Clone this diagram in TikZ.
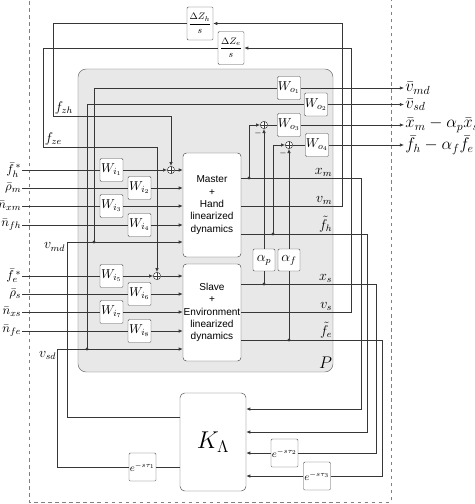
\documentclass[tikz,border=0pt]{standalone}
\usepackage{fontspec}
\newfontfamily\blkfont{Liberation Sans}
\definecolor{wiregray}{RGB}{55,55,55}
\definecolor{pgray}{RGB}{232,232,232}
\usepackage{tikz}
\usetikzlibrary{
  arrows.meta,
  positioning
}

\begin{document}
\begin{tikzpicture}[x=0.03cm, y=-0.03cm,
  wire/.style={draw=wiregray, line width=0.6pt},
  arr/.style={wire, -{Latex[length=3.5pt,width=3pt]}},
  wbox/.style={rectangle, draw=black!70, fill=white, rounded corners=1pt, minimum width=0.69cm, minimum height=0.69cm, inner sep=0pt, font=\fontsize{11}{13}\selectfont},
  dzbox/.style={rectangle, draw=black!70, fill=white, rounded corners=1pt, minimum width=0.78cm, minimum height=0.99cm, inner sep=0pt, font=\fontsize{8}{9}\selectfont},
  dlbox/.style={rectangle, draw=black!70, fill=white, rounded corners=1pt, minimum width=0.81cm, minimum height=0.84cm, inner sep=0pt, font=\fontsize{9}{10}\selectfont},
  dynblock/.style={rectangle, draw=black!70, fill=white, rounded corners=3pt, minimum width=1.74cm, inner sep=0pt, align=center, font=\blkfont\fontsize{8.6}{10.5}\selectfont},
  sumnode/.style={circle, draw=wiregray, fill=white, minimum size=0.22cm, inner sep=0pt,
    path picture={\draw[wiregray] (path picture bounding box.north) -- (path picture bounding box.south)
      (path picture bounding box.west) -- (path picture bounding box.east);}},
  dot/.style={circle, fill=wiregray, inner sep=0pt, minimum size=2.6pt},
  inlbl/.style={inner sep=0.5pt, font=\fontsize{11}{13}\selectfont},
  sig/.style={inner sep=0.5pt, font=\fontsize{11.5}{13}\selectfont},
  outlbl/.style={inner sep=1pt, anchor=west, font=\fontsize{14}{16}\selectfont}
]
  \useasboundingbox (0,0) rectangle (474,504);
  \draw[dashed, gray, line width=0.6pt] (29,-20) rectangle (391,502);

  % plant P
  \node[rectangle, fill=pgray, draw=black!60, rounded corners=7pt, minimum width=7.65cm, minimum height=9.09cm] (pbox) at (205.5,220.5) {};
  \node[sig, anchor=south east] (plbl) at (333,369) {\fontsize{15}{17}\selectfont$P$};

  \node[dynblock, minimum height=3.12cm] (master) at (212,205) {Master\\+\\Hand\\linearized\\dynamics};
  \node[dynblock, minimum height=2.91cm] (slave) at (212,312.5) {Slave\\+\\Environment\\linearized\\dynamics};

  \node[dzbox] (dzh) at (200,23.5) {$\displaystyle\frac{\Delta Z_h}{s}$};
  \node[dzbox] (dze) at (231,48) {$\displaystyle\frac{\Delta Z_e}{s}$};

  \foreach \n/\x/\y in {1/111.5/170, 2/139.5/188, 3/111.5/206, 4/139.5/225,
                        5/111.5/276, 6/139.5/294, 7/111.5/312, 8/139.5/331}
    \node[wbox] (wi\n) at (\x,\y) {$W_{i_{\n}}$};
  \foreach \n/\x/\y in {1/289/88, 2/316/104.5, 3/289/125, 4/317/145}
    \node[wbox] (wo\n) at (\x,\y) {$W_{o_{\n}}$};

  \node[sumnode] (sm) at (171,170) {};
  \node[sumnode] (ss) at (157,276) {};
  \node[sumnode] (s3) at (264,125) {};
  \node[sumnode] (s4) at (289,145) {};

  \node[wbox, minimum width=0.66cm, minimum height=0.66cm, font=\fontsize{12}{14}\selectfont] (ap) at (264,260) {$\alpha_p$};
  \node[wbox, minimum width=0.66cm, minimum height=0.66cm, font=\fontsize{12}{14}\selectfont] (af) at (289,260) {$\alpha_f$};

  % controller
  \node[rectangle, draw=black!70, fill=white, rounded corners=4pt, minimum width=1.98cm, minimum height=2.94cm, font=\fontsize{21}{24}\selectfont] (K) at (213,442) {$K_\Lambda$};
  \node[dlbox] (d1) at (142.5,467) {$e^{-s\tau_1}$};
  \node[dlbox] (d2) at (284.5,453) {$e^{-s\tau_2}$};
  \node[dlbox] (d3) at (317,476) {$e^{-s\tau_3}$};

  % inputs
  \foreach \n/\y/\t in {1/170/{\bar f_h^{\,*}}, 2/188/{\bar\rho_m}, 3/206/{\bar n_{xm}}, 4/225/{\bar n_{fh}},
                        5/276/{\bar f_e^{\,*}}, 6/294/{\bar\rho_s}, 7/312/{\bar n_{xs}}, 8/331/{\bar n_{fe}}}
    \node[inlbl, anchor=east] (in\n) at (22,\y) {$\t$};
  \foreach \n in {1,...,8}
    \draw[wire] (in\n.east) -- (wi\n.west);
  \foreach \n in {2,3,4}
    \draw[arr] (wi\n.east) -- (master.west |- wi\n.east);
  \foreach \n in {6,7,8}
    \draw[arr] (wi\n.east) -- (slave.west |- wi\n.east);
  \draw[arr] (wi1.east) -- (sm.west);
  \draw[arr] (sm.east) -- (master.west |- sm.east);
  \draw[arr] (wi5.east) -- (ss.west);
  \draw[arr] (ss.east) -- (slave.west |- ss.east);

  % interaction forces
  \coordinate (czh) at (53,116);
  \coordinate (cze) at (43,147);
  \draw[arr] (dzh.west) -| (czh) -| (sm.north);
  \draw[arr] (dze.west) -| (cze) -| (ss.north);
  \node[sig, anchor=south west] (fzh) at (54,115) {$f_{zh}$};
  \node[sig, anchor=south west] (fze) at (44,146) {$f_{ze}$};

  % plant outputs
  \coordinate (oxm) at (241,178);
  \coordinate (ovm) at (241,206);
  \coordinate (ofh) at (241,234);
  \coordinate (oxs) at (241,284);
  \coordinate (ovs) at (241,312);
  \coordinate (ofe) at (241,340);
  \coordinate (bvm) at (342,23.5);
  \coordinate (bvs) at (351,48);
  \coordinate (bxm) at (361,409);
  \coordinate (bfh) at (367,432);
  \coordinate (bxs) at (376,453);
  \coordinate (bfe) at (382,476);

  \draw[arr] (ovm) -| (bvm) -- (dzh.east);
  \draw[arr] (ovs) -| (bvs) -- (dze.east);
  \draw[arr] (oxm) -| (bxm) -- (K.east |- bxm);
  \draw[arr] (ofh) -| (bfh) -- (K.east |- bfh);
  \draw[wire] (oxs) -| (bxs) -- (d2.east);
  \draw[wire] (ofe) -| (bfe) -- (d3.east);
  \draw[arr] (d2.west) -- (K.east |- d2.west);
  \draw[arr] (d3.west) -- (K.east |- d3.west);

  \node[sig, anchor=south east] (lxm) at (333,177) {$x_m$};
  \node[sig, anchor=south east] (lvm) at (333,205) {$v_m$};
  \node[sig, anchor=south east] (lfh) at (333,233) {$\tilde f_h$};
  \node[sig, anchor=south east] (lxs) at (333,283) {$x_s$};
  \node[sig, anchor=south east] (lvs) at (333,311) {$v_s$};
  \node[sig, anchor=south east] (lfe) at (333,339) {$\tilde f_e$};

  % performance outputs
  \coordinate (jxm) at (249,178);
  \coordinate (jfh) at (273,234);
  \coordinate (jxs) at (264,284);
  \coordinate (jfe) at (289,340);
  \draw[arr] (jxm) |- (s3.west);
  \draw[arr] (jfh) |- (s4.west);
  \draw[wire] (jxs) -- (ap.south);
  \draw[wire] (jfe) -- (af.south);
  \draw[arr] (ap.north) -- (s3.south);
  \draw[arr] (af.north) -- (s4.south);
  \draw[wire] (s3.east) -- (wo3.west);
  \draw[wire] (s4.east) -- (wo4.west);
  \node[font=\scriptsize, inner sep=0pt] (m3) at (258,133) {$-$};
  \node[font=\scriptsize, inner sep=0pt] (m4) at (283,153) {$-$};
  \foreach \j in {jxm,jfh,jxs,jfe}
    \node[dot] at (\j) {};

  \node[outlbl] (yvmd) at (404,88) {$\bar v_{md}$};
  \node[outlbl] (yvsd) at (404,104.5) {$\bar v_{sd}$};
  \node[outlbl] (yxx) at (404,125) {$\bar x_m-\alpha_p\bar x_s$};
  \node[outlbl] (yff) at (404,145) {$\bar f_h-\alpha_f\bar f_e$};
  \draw[arr] (wo1.east) -- (yvmd.west);
  \draw[arr] (wo2.east) -- (yvsd.west);
  \draw[arr] (wo3.east) -- (yxx.west);
  \draw[arr] (wo4.east) -- (yff.west);

  % controller outputs
  \coordinate (kvmd) at (180,417);
  \coordinate (lvmd) at (67,242);
  \coordinate (lvsd) at (57,349);
  \coordinate (jvmd) at (94,242);
  \coordinate (jvsd) at (87,349);
  \draw[arr] (kvmd) -| (lvmd) -- (master.west |- lvmd);
  \draw[wire] (K.west |- d1.east) -- (d1.east);
  \draw[arr] (d1.west) -| (lvsd) -- (slave.west |- lvsd);
  \draw[wire] (jvmd) |- (wo1.west);
  \draw[wire] (jvsd) |- (wo2.west);
  \node[dot] at (jvmd) {};
  \node[dot] at (jvsd) {};
  \node[sig, anchor=east] (vmd) at (66,247) {$v_{md}$};
  \node[sig, anchor=north east] (vsd) at (57,351) {$v_{sd}$};
\end{tikzpicture}
\end{document}
